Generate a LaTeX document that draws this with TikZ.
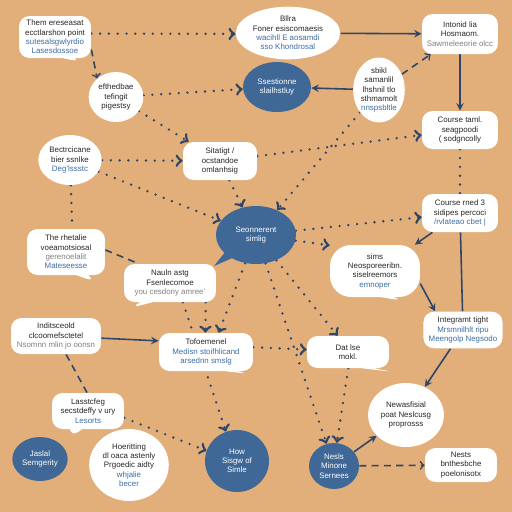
\documentclass[tikz,border=0pt]{standalone}
\usepackage{fontspec}
\setmainfont{Liberation Sans}
\usepackage{xcolor}
\usepackage{tikz}
\usetikzlibrary{shapes.geometric, shapes.callouts, arrows, positioning, calc}
\definecolor{bgtan}{HTML}{E2AE7A}
\definecolor{bubblue}{HTML}{406896}
\definecolor{inkblue}{HTML}{2E4668}
\definecolor{txtblue}{HTML}{3C6CA6}
\newcommand{\bl}[1]{\textcolor{txtblue}{#1}}
\newcommand{\gr}[1]{\textcolor{gray}{#1}}
\pgfdeclarelayer{bg}
\pgfsetlayers{bg,main}

\begin{document}
\begin{tikzpicture}[
  x=0.02cm, y=-0.02cm,
  txt/.style={align=center, font=\fontsize{4.5}{5.3}\selectfont, text=black!85, inner sep=1pt},
  box/.style={txt, rectangle, rounded corners=6pt, fill=white},
  bubble/.style={txt, rectangle callout, rounded corners=6pt, fill=white},
  disc/.style={txt, ellipse, fill=white},
  bdisc/.style={txt, ellipse, fill=bubblue, text=white},
  dots/.style={draw=inkblue, line width=1.5pt, line cap=round, dash pattern=on 0pt off 5pt},
  dashy/.style={draw=inkblue, line width=0.9pt, dash pattern=on 4pt off 3pt},
  arr/.style={->, >=stealth, draw=inkblue, line width=0.9pt}
]
\useasboundingbox (0,0) rectangle (512,512);

% top row
\node[bubble, minimum width=1.44cm, minimum height=0.84cm,
      callout absolute pointer={(82,62)}] (them) at (55,37)
  {Them ereseasat\\ ecctlarshon point\\ \bl{sutesalsgwlyrdio}\\ \bl{Lasesdossoe}};
\node[disc, minimum width=1.76cm, minimum height=1.0cm] (bllra) at (288,33)
  {Bllra\\ Foner esiscomaesis\\ \bl{wacihll E aosamdi}\\ \bl{sso Khondrosal}};
\node[box, minimum width=1.52cm, minimum height=0.8cm] (intonid) at (460,34)
  {Intonid lia\\ Hosmaom.\\ \gr{Sawmeleeorie olcc}};

% second row
\node[disc, minimum width=1.0cm, minimum height=1.0cm] (efthed) at (116,97)
  {efthedbae\\ tefingit\\ pigestsy};
\node[bdisc, minimum width=1.36cm, minimum height=1.0cm] (ssest) at (277,87)
  {Ssestionne\\ slailhstluy};
\node[disc, minimum width=0.96cm, minimum height=1.3cm, inner sep=0pt] (sbikl) at (379,90)
  {sbikl\\ samanlil\\ lhshnil tlo\\ sthmamolt\\ \bl{nnspsbltle}};
\node[box, minimum width=1.52cm, minimum height=0.76cm] (coursea) at (460,130)
  {Course taml.\\ seagpoodi\\ ( sodgncolly};

% third row
\node[disc, minimum width=1.2cm, minimum height=1.0cm] (bectr) at (70,160)
  {Bectrcicane\\ bier ssnlke\\ \bl{Deg'lssstc}};
\node[box, minimum width=1.48cm, minimum height=0.76cm] (sitat) at (220,161)
  {Sitatigt /\\ ocstandoe\\ omlanhsig};
\node[txt, ellipse callout, fill=bubblue, text=white, minimum width=1.6cm, minimum height=1.16cm,
      callout absolute pointer={(214,266)}] (seonn) at (256,235)
  {Seonnerent\\ simlig};
\node[box, minimum width=1.52cm, minimum height=0.76cm] (courseb) at (460,213)
  {Course rned 3\\ sidipes percoci\\ \bl{/rvlateao cbet |}};
\node[bubble, minimum width=1.56cm, minimum height=0.92cm,
      callout absolute pointer={(96,282)}] (rhet) at (66,252)
  {The rhetalie\\ voeamotsiosal\\ \gr{gerenoelalit}\\ \bl{Mateseesse}};

% middle rows
\node[bubble, minimum width=1.84cm, minimum height=0.76cm,
      callout absolute pointer={(130,308)}] (nauln) at (170,283)
  {Nauln astg\\ Fsenlecomoe\\ \gr{you cesdony amree'}};
\node[bubble, rounded corners=12pt, minimum width=1.8cm, minimum height=1.04cm,
      callout absolute pointer={(410,302)}] (sims) at (375,271)
  {sims\\ Neosporeeribn.\\ siselreemors\\ \bl{emnoper}};
\node[box, minimum width=1.5cm, minimum height=0.68cm, inner sep=3pt] (integ) at (463,330)
  {Integramt tight\\ \bl{Mrsmnilhlt ripu}\\ \bl{Meengolp Negsodo}};
\node[box, minimum width=1.8cm, minimum height=0.72cm] (indit) at (56,336)
  {Inditsceold\\ clcoomefsctetel\\ \gr{Nsomnn mlin jo oonsn}};
\node[bubble, minimum width=1.88cm, minimum height=0.76cm,
      callout absolute pointer={(250,374)}] (tofoe) at (206,352)
  {Tofoemenel\\ \bl{Medisn stoifhlicand}\\ \bl{arsednn smslg}};
\node[bubble, minimum width=1.64cm, minimum height=0.64cm,
      callout absolute pointer={(394,372)}] (datlse) at (348,352)
  {Dat lse\\ mokl.};

% bottom rows
\node[bubble, minimum width=1.44cm, minimum height=0.72cm,
      callout absolute pointer={(70,438)}] (lasst) at (88,411)
  {Lasstcfeg\\ secstdeffy v ury\\ \bl{Lesorts}};
\node[disc, minimum width=1.28cm, minimum height=1.28cm] (newas) at (406,415)
  {Newasfisial\\ poat Neslcusg\\ proprosss};
\node[bdisc, minimum width=1.04cm, minimum height=0.88cm] (jaslal) at (40,459)
  {Jaslal\\ Semgerity};
\node[disc, minimum width=1.4cm, minimum height=1.44cm] (hoerit) at (129,465)
  {Hoeritting\\ dl oaca astenly\\ Prgoedic aidty\\ \bl{whjalie}\\ \bl{becer}};
\node[bdisc, minimum width=1.28cm, minimum height=1.24cm] (how) at (237,461)
  {How\\ Sisgw of\\ Simle};
\node[bdisc, minimum width=1.0cm, minimum height=0.92cm] (nesls) at (334,466)
  {Nesls\\ Minone\\ Sernees};
\node[box, minimum width=1.44cm, minimum height=0.68cm] (nests) at (461,465)
  {Nests\\ bnthesbche\\ poelonisotx};

\begin{pgfonlayer}{bg}
\fill[bgtan] (0,0) rectangle (512,512);
\draw[dots, ->] (them) -- (bllra);
\draw[arr] (bllra) -- (intonid);
\draw[arr] (intonid) -- (coursea);
\draw[dots] (coursea) -- (courseb);
\draw[arr, -] (courseb) -- (integ);
\draw[dashy, ->] (them) -- (efthed);
\draw[dots, ->] (efthed) -- (ssest);
\draw[arr] (sbikl) -- (ssest);
\draw[dashy, ->] (sbikl) -- (intonid);
\draw[dots, ->] (bectr) -- (sitat);
\draw[dots, ->] (efthed) -- (sitat);
\draw[dots] (bectr) -- (rhet);
\draw[dots, ->] (bectr) -- (seonn);
\draw[dots, ->] (sitat) -- (seonn);
\draw[dots, ->] (sbikl) -- (seonn);
\draw[dots, ->] (sitat) -- (coursea);
\draw[dots, ->] (seonn) -- (courseb);
\draw[dots, ->] (seonn) -- (sims);
\draw[arr] (courseb) -- (sims);
\draw[arr] (sims) -- (integ);
\draw[arr] (integ) -- (newas);
\draw[dashy] (rhet) -- (nauln);
\draw[dots, ->] (nauln) -- (tofoe);
\draw[arr] (indit) -- (tofoe);
\draw[dots, ->] (tofoe) -- (datlse);
\draw[dots, ->] (seonn) -- (tofoe);
\draw[dots, ->] (seonn) -- (datlse);
\draw[dots, ->] (nauln) -- (how);
\draw[dots, ->] (datlse) -- (nesls);
\draw[dots, ->] (lasst) -- (how);
\draw[arr] (nesls) -- (newas);
\draw[dashy, ->] (nesls) -- (nests);
\draw[dashy] (indit) -- (lasst);
\draw[dots, ->] (seonn) -- (nesls);
\end{pgfonlayer}
\end{tikzpicture}
\end{document}
